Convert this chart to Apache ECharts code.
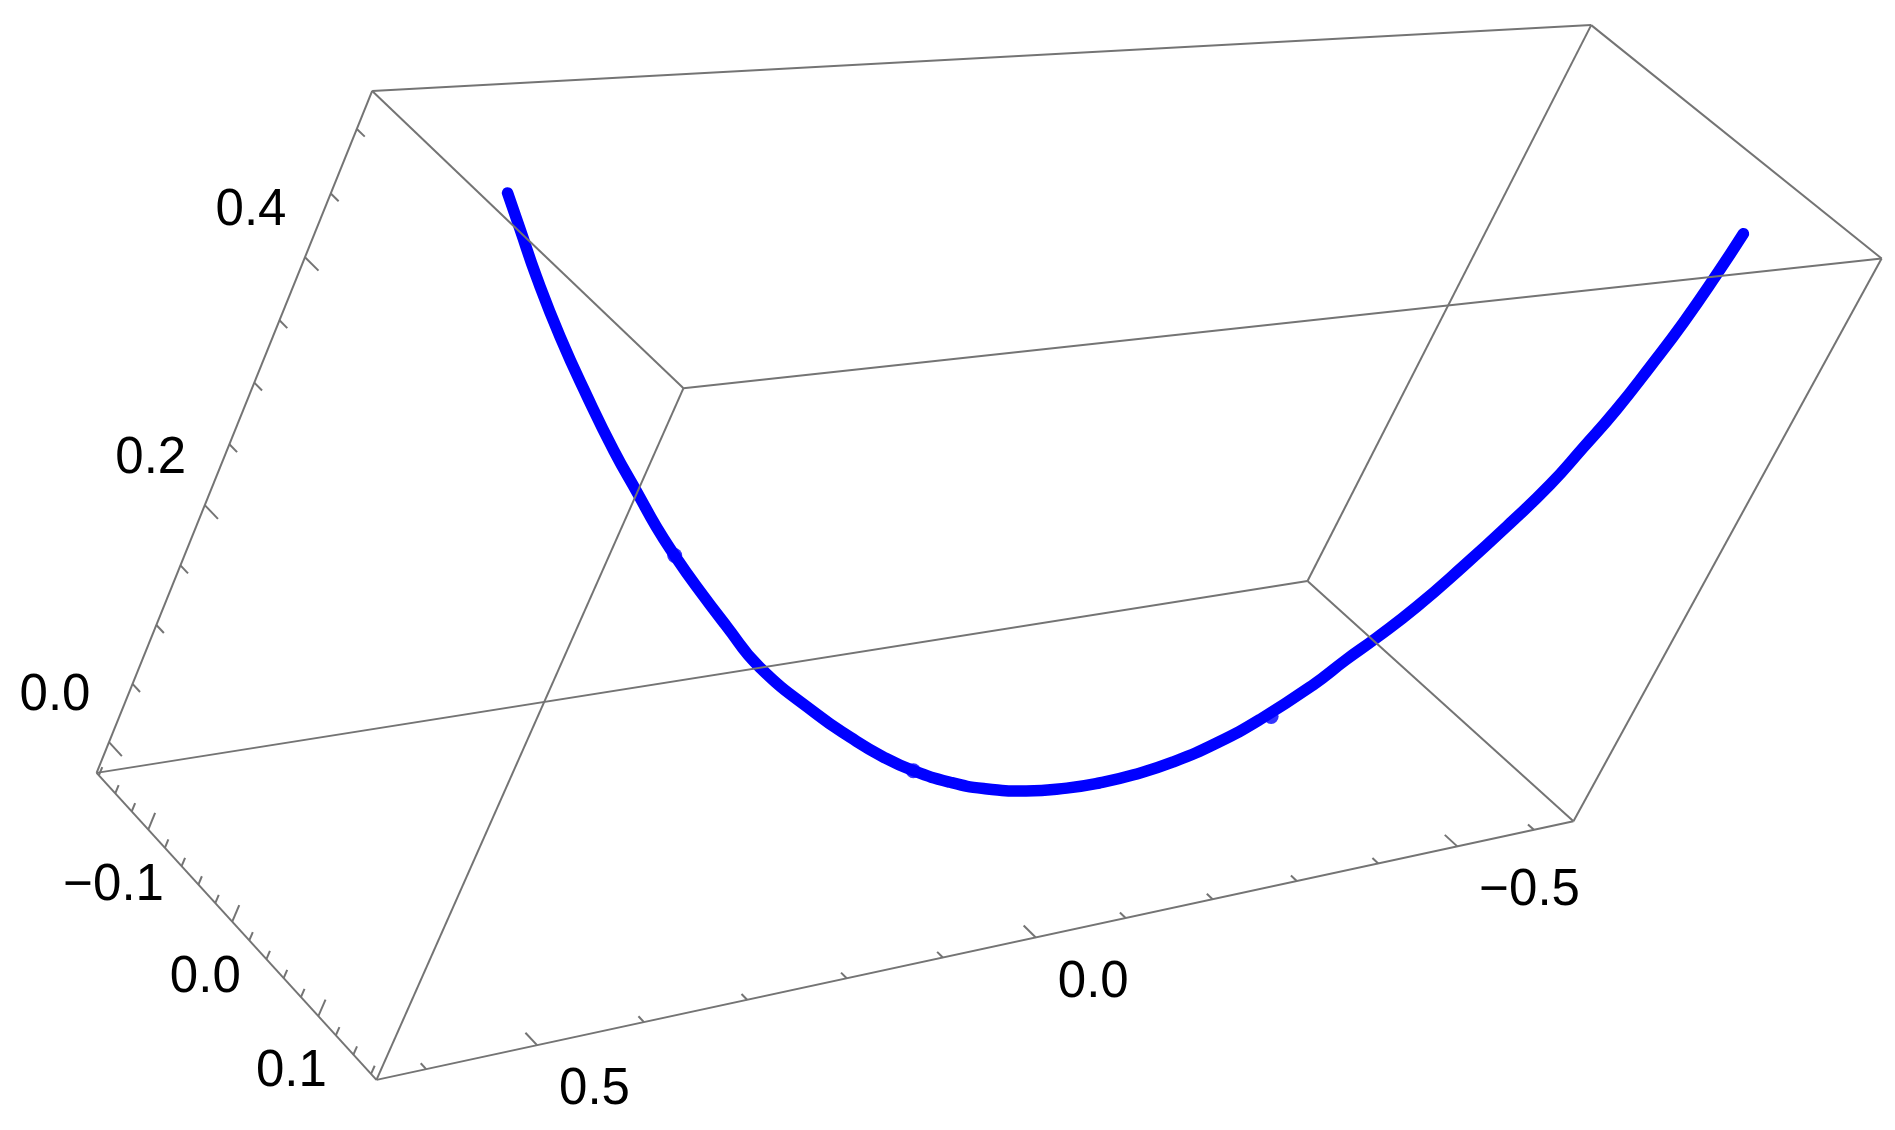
<!DOCTYPE html>
<html><head><meta charset="utf-8">
<script src="https://cdn.jsdelivr.net/npm/echarts@6/dist/echarts.min.js"></script>
<style>html,body{margin:0;padding:0;background:#fff}#c{width:1895px;height:1130px}</style>
</head><body><div id="c"></div>
<script>
const W=1895,H=1130;
// plot range of the 3D box (data units)
const xRange=[-0.6529,0.6436];
const yRange=[-0.1628,0.1661];
const zRange=[-0.0266,0.5292];
// ticks and tick labels
const xTicks=[-0.6,-0.5,-0.4,-0.3,-0.2,-0.1,0,0.1,0.2,0.3,0.4,0.5,0.6];
const xLabels=[[-0.5,'\u22120.5'],[0,'0.0'],[0.5,'0.5']];
const yTicks=[-0.16,-0.14,-0.12,-0.1,-0.08,-0.06,-0.04,-0.02,0,0.02,0.04,0.06,0.08,0.1,0.12,0.14,0.16];
const yLabels=[[-0.1,'\u22120.1'],[0,'0.0'],[0.1,'0.1']];
const zTicks=[0,0.05,0.1,0.15,0.2,0.25,0.3,0.35,0.4,0.45,0.5];
const zLabels=[[0,'0.0'],[0.2,'0.2'],[0.4,'0.4']];
// the space curve (x, y, z)
const curveX=[0.582,0.560,0.531,0.492,0.449,0.407,0.371,0.342,0.315,0.283,0.240,0.193,0.120,0.078,0.036,0.001,-0.041,-0.078,-0.123,-0.163,-0.195,-0.226,-0.261,-0.298,-0.331,-0.370,-0.392,-0.413,-0.439,-0.467,-0.494,-0.516,-0.531,-0.546,-0.558,-0.568,-0.577,-0.582];
const curveY=[-0.078,-0.075,-0.071,-0.065,-0.059,-0.053,-0.048,-0.044,-0.040,-0.036,-0.030,-0.023,-0.012,-0.006,-0.001,0.005,0.011,0.016,0.022,0.028,0.032,0.037,0.042,0.047,0.052,0.057,0.060,0.063,0.067,0.071,0.075,0.078,0.080,0.082,0.084,0.086,0.087,0.088];
const curveZ=[0.504,0.476,0.439,0.392,0.344,0.299,0.263,0.234,0.209,0.181,0.145,0.107,0.062,0.039,0.018,0.004,-0.009,-0.017,-0.022,-0.021,-0.018,-0.011,0.000,0.017,0.039,0.071,0.095,0.116,0.146,0.185,0.227,0.264,0.299,0.336,0.378,0.420,0.466,0.504];
// small joint marks visible on the curve
const jointX=[0.315,0.001,-0.342];
const jointY=[-0.040,0.005,0.053];
const jointZ=[0.209,0.004,0.041];

// perspective camera (looks at the box centre)
const camera={eye:[3.2173,2.1929,2.2132],roll:0.44919,focal:6010.60,cx:1044.58,cy:499.74};
function sub(a,b){return [a[0]-b[0],a[1]-b[1],a[2]-b[2]];}
function dot(a,b){return a[0]*b[0]+a[1]*b[1]+a[2]*b[2];}
function cross(a,b){return [a[1]*b[2]-a[2]*b[1],a[2]*b[0]-a[0]*b[2],a[0]*b[1]-a[1]*b[0]];}
function norm(a){const l=Math.hypot(a[0],a[1],a[2]);return [a[0]/l,a[1]/l,a[2]/l];}
const center=[(xRange[0]+xRange[1])/2,(yRange[0]+yRange[1])/2,(zRange[0]+zRange[1])/2];
const fw=norm(sub(center,camera.eye));
const r0=norm(cross(fw,[0,0,1])),u0=cross(r0,fw);
const cr=Math.cos(camera.roll),sr=Math.sin(camera.roll);
const right=[0,1,2].map(i=>cr*r0[i]+sr*u0[i]);
const up=[0,1,2].map(i=>-sr*r0[i]+cr*u0[i]);
function project(X){const d=sub(X,camera.eye);const z=dot(d,fw);return [camera.cx+camera.focal*dot(d,right)/z,camera.cy-camera.focal*dot(d,up)/z];}

const X0=xRange[0],X1=xRange[1],Y0=yRange[0],Y1=yRange[1],Z0=zRange[0],Z1=zRange[1];
const corner={A:[X1,Y0,Z1],B:[X0,Y0,Z1],C:[X0,Y1,Z1],D:[X1,Y1,Z1],E:[X1,Y0,Z0],F:[X1,Y1,Z0],G:[X0,Y1,Z0],H:[X0,Y0,Z0]};
const edges=[['A','B'],['B','C'],['C','D'],['D','A'],['E','H'],['H','G'],['G','F'],['F','E'],['A','E'],['B','H'],['C','G'],['D','F']];
const segs=[];
edges.forEach(([a,b])=>{const p=project(corner[a]),q=project(corner[b]);segs.push([p[0],p[1],q[0],q[1]]);});
function tick(P,dir,len){const p=project(P);const q=project([P[0]+dir[0]*0.01,P[1]+dir[1]*0.01,P[2]+dir[2]*0.01]);const dx=q[0]-p[0],dy=q[1]-p[1];const l=Math.hypot(dx,dy);segs.push([p[0],p[1],p[0]+dx/l*len,p[1]+dy/l*len]);}
const isMaj=(v,list)=>list.some(l=>Math.abs(l[0]-v)<1e-9);
xTicks.forEach(v=>tick([v,Y1,Z0],[0,-1,0],isMaj(v,xLabels)?17:8));
yTicks.forEach(v=>tick([X1,v,Z0],[0,0,1],isMaj(v,yLabels)?18:9));
zTicks.forEach(v=>tick([X1,Y0,v],[0,1,0],isMaj(v,zLabels)?19:11));

const FONT='51px "Liberation Sans"';
const mctx=document.createElement('canvas').getContext('2d');mctx.font=FONT;
const tw=t=>mctx.measureText(t).width;
const labels=[];
xLabels.forEach(([v,t])=>{const p=project([v,Y1,Z0]);labels.push([p[0]+22,p[1]+45,t,'left']);});
yLabels.forEach(([v,t])=>{const p=project([X1,v,Z0]);labels.push([p[0]-8.5-0.26*tw(t),p[1]+56,t,'center']);});
zLabels.forEach(([v,t])=>{const p=project([X1,Y0,v]);labels.push([p[0]-54,p[1]-46,t,'center']);});

const curve=curveX.map((x,i)=>project([x,curveY[i],curveZ[i]]));
const joints=jointX.map((x,i)=>project([x,jointY[i],jointZ[i]]));

const chart=echarts.init(document.getElementById('c'));
chart.setOption({animation:false,
 grid:{left:0,right:0,top:0,bottom:0},
 xAxis:{type:'value',min:0,max:W,show:false},
 yAxis:{type:'value',min:0,max:H,inverse:true,show:false},
 series:[
  {type:'line',data:curve,showSymbol:false,z:2,smooth:0.5,lineStyle:{color:'#0000ff',width:11.5,cap:'round',join:'round'}},
  {type:'scatter',data:joints,z:2,symbolSize:15,itemStyle:{color:'#0000ff'}},
  {type:'custom',z:3,data:segs,renderItem:(p,api)=>{const a=api.coord([api.value(0),api.value(1)]),b=api.coord([api.value(2),api.value(3)]);return {type:'line',shape:{x1:a[0],y1:a[1],x2:b[0],y2:b[1]},style:{stroke:'#747474',lineWidth:2}};}},
  {type:'custom',z:4,data:labels.map(l=>[l[0],l[1]]),renderItem:(p,api)=>{const a=api.coord([api.value(0),api.value(1)]);const L=labels[p.dataIndex];return {type:'text',x:a[0],y:a[1],style:{text:L[2],fill:'#000',font:FONT,align:L[3],verticalAlign:'middle'}};}}
 ]});
</script></body></html>
